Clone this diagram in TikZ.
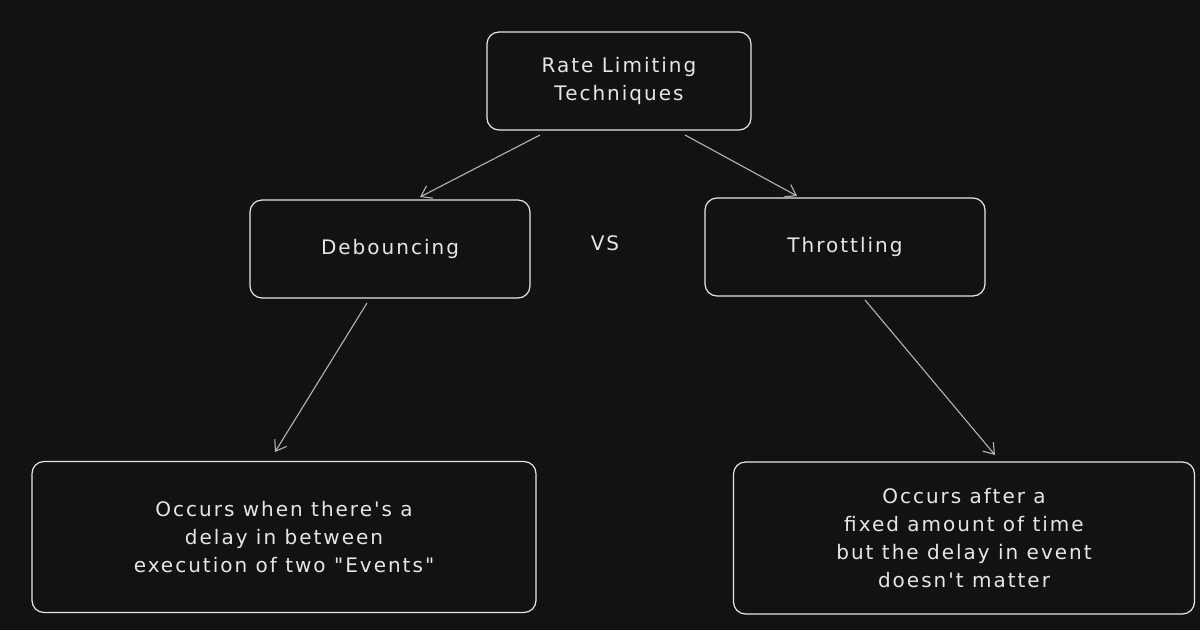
\documentclass[tikz,border=0pt]{standalone}
\usepackage{fontspec}
\setmainfont[LetterSpace=10,Ligatures=TeXOff]{DejaVu Sans}
\usetikzlibrary{arrows.meta}
\definecolor{bg}{HTML}{121212}
\definecolor{fg}{HTML}{E6E6E6}
\definecolor{ln}{HTML}{B4B4B4}
\tikzset{
  box/.style={draw=fg, line width=1.2pt, rounded corners=12pt, text=fg, align=center, font=\fontsize{20}{28}\selectfont, inner sep=0pt},
  conn/.style={draw=ln, line width=1.1pt, -{Straight Barb[length=10pt,width=14pt]}}
}
\begin{document}
\begin{tikzpicture}[x=1pt,y=-1pt]
\fill[bg] (0,0) rectangle (1200,630);
\useasboundingbox (0,0) rectangle (1200,630);
\node[box, minimum width=264pt, minimum height=98pt] (top) at (619,81) {Rate Limiting\\Techniques};
\node[box, minimum width=280pt, minimum height=98pt] (deb) at (390,249) {Debouncing};
\node[box, minimum width=280pt, minimum height=98pt] (thr) at (845,247) {Throttling};
\node[text=fg, font=\fontsize{20}{24}\selectfont] (vs) at (605,243) {VS};
\node[box, minimum width=504pt, minimum height=151pt] (bl) at (284,537) {Occurs when there's a\\delay in between\\execution of two "Events"};
\node[box, minimum width=461pt, minimum height=152pt] (br) at (964,538) {Occurs after a\\fixed amount of time\\but the delay in event\\doesn't matter};
\coordinate (a1) at (540,135); \coordinate (a2) at (685,135);
\coordinate (b1) at (367,303); \coordinate (c1) at (865,300);
\draw[conn] (a1) -- (420,197);
\draw[conn] (a2) -- (797,196);
\draw[conn] (b1) -- (275,452);
\draw[conn] (c1) -- (995,455);
\end{tikzpicture}
\end{document}
